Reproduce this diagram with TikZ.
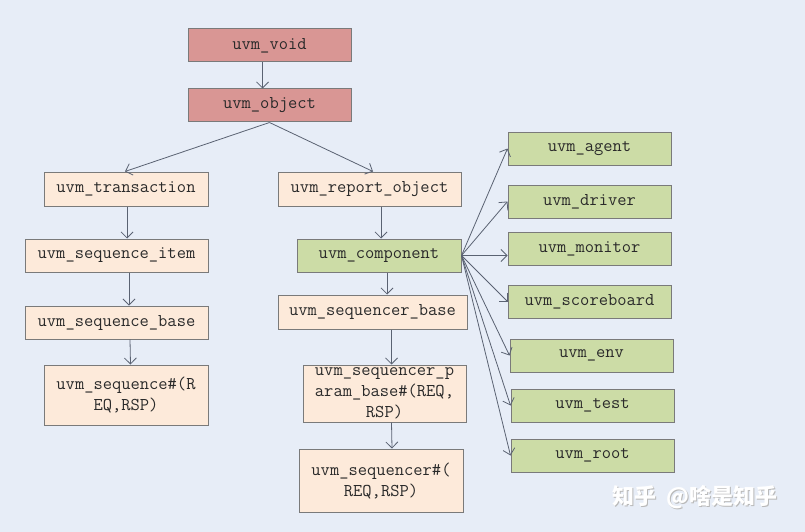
\documentclass[tikz,border=0pt]{standalone}
\usepackage{fontspec}
\setmonofont{Latin Modern Mono}
\newfontfamily\cjkwm{Noto Sans CJK SC}
\usetikzlibrary{arrows.meta}
\definecolor{bgc}{HTML}{E7EDF7}
\definecolor{redf}{HTML}{D99694}
\definecolor{peachf}{HTML}{FDEADA}
\definecolor{greenf}{HTML}{CCDCA6}
\definecolor{edgec}{HTML}{7A7A7A}
\definecolor{linec}{HTML}{5A6272}
\definecolor{txtc}{HTML}{2A2A2A}
\tikzset{
  box/.style={draw=edgec, line width=1pt, inner sep=0pt, align=center,
    text=txtc, font=\ttfamily\fontsize{18}{21}\selectfont},
  redbox/.style={box, fill=redf},
  peachbox/.style={box, fill=peachf},
  greenbox/.style={box, fill=greenf},
  arr/.style={draw=linec, line width=0.8pt, -{Straight Barb[length=6pt,width=12pt]}},
  wm/.style={font=\cjkwm\bfseries\fontsize{22}{24}\selectfont, inner sep=0pt}
}
\begin{document}
\begin{tikzpicture}[x=1pt,y=-1pt]
\fill[bgc] (0,0) rectangle (805,532);
\useasboundingbox (0,0) rectangle (805,532);

\node[redbox, minimum width=163, minimum height=33] (void) at (269.5,45.5) {uvm\_void};
\node[redbox, minimum width=163, minimum height=33] (obj) at (269.5,105.5) {uvm\_object};

\node[peachbox, minimum width=164, minimum height=34] (trans) at (126,189) {uvm\_transaction};
\node[peachbox, minimum width=183, minimum height=34] (rep) at (369.5,189) {uvm\_report\_object};
\node[peachbox, minimum width=183, minimum height=33] (item) at (116.5,255.5) {uvm\_sequence\_item};
\node[greenbox, minimum width=164, minimum height=33] (comp) at (379,255.5) {uvm\_component};
\node[peachbox, minimum width=183, minimum height=33] (sbase) at (116.5,322.5) {uvm\_sequence\_base};
\node[peachbox, minimum width=189, minimum height=34] (qbase) at (372.5,312) {uvm\_sequencer\_base};
\node[peachbox, minimum width=164, minimum height=60] (seq) at (126,395) {uvm\_sequence\#(R\\EQ,RSP)};
\node[peachbox, minimum width=163, minimum height=57] (pbase) at (384.5,393.5) {};
\node[box, draw=none, fill=none] (pbaset) at (pbase.center) {uvm\_sequencer\_p\\aram\_base\#(REQ,\\RSP)};
\node[peachbox, minimum width=164, minimum height=63] (sqr) at (381,480.5) {uvm\_sequencer\#(\\REQ,RSP)};

\node[greenbox, minimum width=163, minimum height=33] (agent) at (589.5,148.5) {uvm\_agent};
\node[greenbox, minimum width=163, minimum height=33] (drv) at (589.5,201.5) {uvm\_driver};
\node[greenbox, minimum width=163, minimum height=33] (mon) at (589.5,248.5) {uvm\_monitor};
\node[greenbox, minimum width=163, minimum height=33] (scb) at (589.5,301.5) {uvm\_scoreboard};
\node[greenbox, minimum width=163, minimum height=33] (env) at (591.5,355.5) {uvm\_env};
\node[greenbox, minimum width=163, minimum height=33] (test) at (592.5,405.5) {uvm\_test};
\node[greenbox, minimum width=163, minimum height=33] (root) at (592.5,455.5) {uvm\_root};

% connectors
\draw[arr] ([xshift=-7pt]void.south) -- ([xshift=-7pt]obj.north);
\draw[arr] (obj.south) -- ([xshift=-1pt]trans.north);
\draw[arr] (obj.south) -- ([xshift=3.5pt]rep.north);
\draw[arr] ([xshift=1pt]trans.south) -- ([xshift=10.5pt]item.north);
\draw[arr] ([xshift=12.5pt]item.south) -- ([xshift=12.5pt]sbase.north);
\draw[arr] ([xshift=13.5pt]sbase.south) -- ([xshift=4.5pt]seq.north);
\draw[arr] ([xshift=11.5pt]rep.south) -- ([xshift=2pt]comp.north);
\draw[arr] ([xshift=8pt]comp.south) -- ([xshift=14.5pt]qbase.north);
\draw[arr] ([xshift=19pt]qbase.south) -- ([xshift=7pt]pbase.north);
\draw[arr] ([xshift=7pt]pbase.south) -- ([xshift=11pt]sqr.north);

\draw[arr] (comp.east) -- (agent.west);
\draw[arr] (comp.east) -- (drv.west);
\draw[arr] (comp.east) -- (comp.east -| mon.west);
\draw[arr] (comp.east) -- (scb.west);
\draw[arr] (comp.east) -- (env.west);
\draw[arr] (comp.east) -- (test.west);
\draw[arr] (comp.east) -- (root.west);

% watermark
\node[wm, text=gray!55, anchor=west] (wmshadow) at (613.5,498.5) {知乎\ \ @啥是知乎};
\node[wm, text=white, anchor=west] (wmark) at (612,497) {知乎\ \ @啥是知乎};
\end{tikzpicture}
\end{document}
